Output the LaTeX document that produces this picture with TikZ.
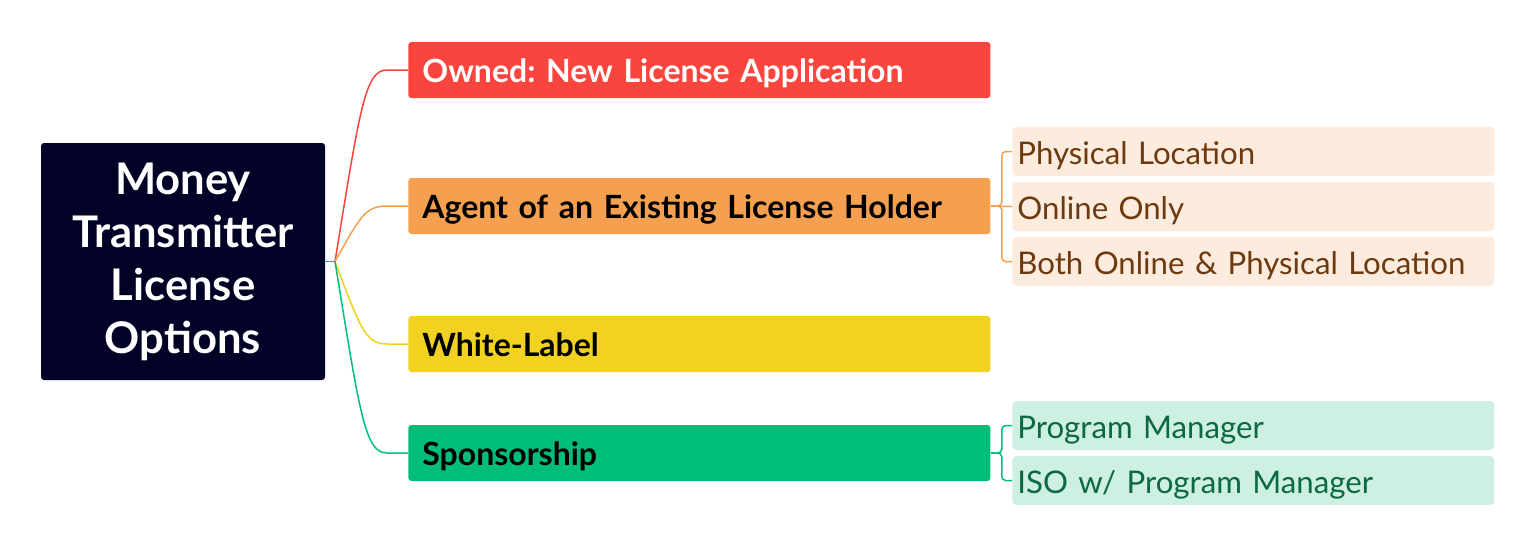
\documentclass[tikz,border=0pt]{standalone}
\usepackage{fontspec}
\setmainfont{Lato}
\usetikzlibrary{calc}
\definecolor{rootc}{RGB}{2,1,38}
\definecolor{redc}{RGB}{250,69,62}
\definecolor{orac}{RGB}{245,160,80}
\definecolor{yelc}{RGB}{241,210,33}
\definecolor{grnc}{RGB}{0,189,122}
\definecolor{orafill}{RGB}{253,235,221}
\definecolor{oratext}{RGB}{108,58,14}
\definecolor{grnfill}{RGB}{205,240,226}
\definecolor{grntext}{RGB}{12,105,66}
\frenchspacing
\tikzset{
  rootbox/.style={rectangle, rounded corners=1.5pt, fill=rootc, text=white, minimum width=142pt, minimum height=118.5pt, align=center, inner sep=0pt, font=\bfseries\fontsize{21.8}{26.5}\selectfont},
  mainbox/.style={rectangle, rounded corners=1.5pt, anchor=west, minimum height=28pt, text width=277pt, text height=12.6pt, text depth=0pt, inner xsep=7pt, inner ysep=0pt, align=left, font=\bfseries\fontsize{16}{19}\selectfont},
  childbox/.style={rectangle, rounded corners=2pt, anchor=west, minimum height=24.5pt, text width=236pt, text height=12.5pt, text depth=0pt, inner xsep=2.5pt, inner ysep=0pt, align=left, font=\fontsize{15.6}{18}\selectfont},
  conn/.style={line width=0.75pt},
  bracket/.style={line width=0.75pt, rounded corners=2pt}
}
\begin{document}
\begin{tikzpicture}[x=0.5pt,y=-0.5pt]
\useasboundingbox (0,0) rectangle (1536,547);
\node[rootbox] (root) at (183,261.5) {Money\\Transmitter\\License\\Options};
\node[mainbox, fill=redc, text=white] (own) at (408,70) {Owned: New License Application};
\node[mainbox, fill=orac, text=black] (agent) at (408,206) {Agent of an Existing License Holder};
\node[mainbox, fill=yelc, text=black] (white) at (408,344) {White-Label};
\node[mainbox, fill=grnc, text=black] (spons) at (408,453) {Sponsorship};
\node[childbox, fill=orafill, text=oratext] (p1) at (1012,151.5) {Physical Location};
\node[childbox, fill=orafill, text=oratext] (p2) at (1012,206.5) {Online Only};
\node[childbox, fill=orafill, text=oratext] (p3) at (1012,261.5) {Both Online \& Physical Location};
\node[childbox, fill=grnfill, text=grntext] (g1) at (1012,425.5) {Program Manager};
\node[childbox, fill=grnfill, text=grntext] (g2) at (1012,480.5) {ISO w/ Program Manager};
\coordinate (hub) at (335,261.5);
\draw[conn, redc] (hub) .. controls (360,108) and (365,70) .. ($(own.west)+(-21,0)$) -- (own.west);
\draw[conn, orac] (hub) .. controls (360,217) and (365,206) .. ($(agent.west)+(-21,0)$) -- (agent.west);
\draw[conn, yelc] (hub) .. controls (360,327) and (365,344) .. ($(white.west)+(-21,0)$) -- (white.west);
\draw[conn, grnc] (hub) .. controls (360,415) and (365,453) .. ($(spons.west)+(-21,0)$) -- (spons.west);
\draw[conn, grnc] (root.east) -- (hub);
\draw[bracket, orac] (agent.east) -- ($(agent.east)+(11,0)$) |- (p1.west);
\draw[bracket, orac] (agent.east) -- (p2.west);
\draw[bracket, orac] (agent.east) -- ($(agent.east)+(11,0)$) |- (p3.west);
\draw[bracket, grnc] (spons.east) -- ($(spons.east)+(11,0)$) |- (g1.west);
\draw[bracket, grnc] (spons.east) -- ($(spons.east)+(11,0)$) |- (g2.west);
\end{tikzpicture}
\end{document}
